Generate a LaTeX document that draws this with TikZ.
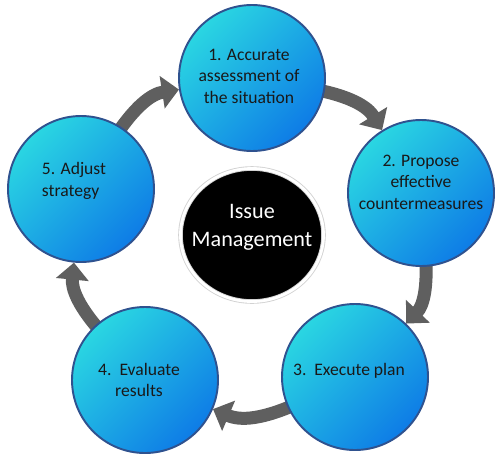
\documentclass[tikz,border=0pt]{standalone}
\usepackage{fontspec}
\setmainfont{Carlito}
\usetikzlibrary{positioning,arrows.meta,shapes.geometric,backgrounds}
\definecolor{stepcyan}{RGB}{42,214,226}
\definecolor{stepblue}{RGB}{14,124,230}
\definecolor{steprim}{RGB}{47,82,143}
\definecolor{turngray}{RGB}{95,95,95}
\tikzset{node distance=3.14cm,
  stage/.style={circle, minimum size=2.92cm, inner sep=0pt, draw=steprim, line width=1.1pt,
    top color=stepcyan, bottom color=stepblue, shading angle=45},
  stagetext/.style={font=\fontsize{10}{12.2}\selectfont, text=black!90, align=center},
  hub/.style={ellipse, minimum width=2.86cm, minimum height=2.66cm, fill=black, draw=gray!35,
    double=white, double distance=1.6pt, line width=0.5pt},
  hubtext/.style={font=\fontsize{12.6}{15.9}\selectfont, text=white, align=center},
  turn/.style={draw=turngray, line width=0.26cm, -{Triangle[width=0.64cm,length=0.34cm]},
    bend left=24, shorten <=-0.3cm}}

\begin{document}
\begin{tikzpicture}
              \useasboundingbox (0,0) rectangle (10,9.2);

              \node (Im) [hub, label={[hubtext, yshift=0.16cm]center:{Issue\\Management}}] at (5.04,4.50) {};
              \node (Acc) [stage, above of=Im, label={[stagetext, xshift=-0.06cm, yshift=0.04cm]center:{1. Accurate\\assessment of\\the situation}}] {};
              \node (Prop) [stage, label={[stagetext, yshift=0.22cm]center:{2. Propose\\effective\\countermeasures}}] at (8.42,5.34) {};
              \node (Exec) [stage, label={[stagetext, xshift=-0.12cm, yshift=0.12cm]center:{3.~~Execute plan}}] at (7.10,1.66) {};
              \node (Eval) [stage, label={[stagetext, xshift=-0.12cm]center:{4.~~Evaluate\\results}}] at (2.90,1.60) {};
              \node (Adj) [stage, label={[stagetext, align=left, xshift=-0.14cm, yshift=0.16cm]center:{5. Adjust\\strategy}}] at (1.62,5.42) {};

              \begin{scope}[on background layer]
              \draw [turn] (Acc) to (Prop);
              \draw [turn] (Prop) to (Exec);
              \draw [turn] (Exec) to (Eval);
              \draw [turn] (Eval) to (Adj);
              \draw [turn] (Adj) to (Acc);
              \end{scope}
            \end{tikzpicture}
\end{document}
